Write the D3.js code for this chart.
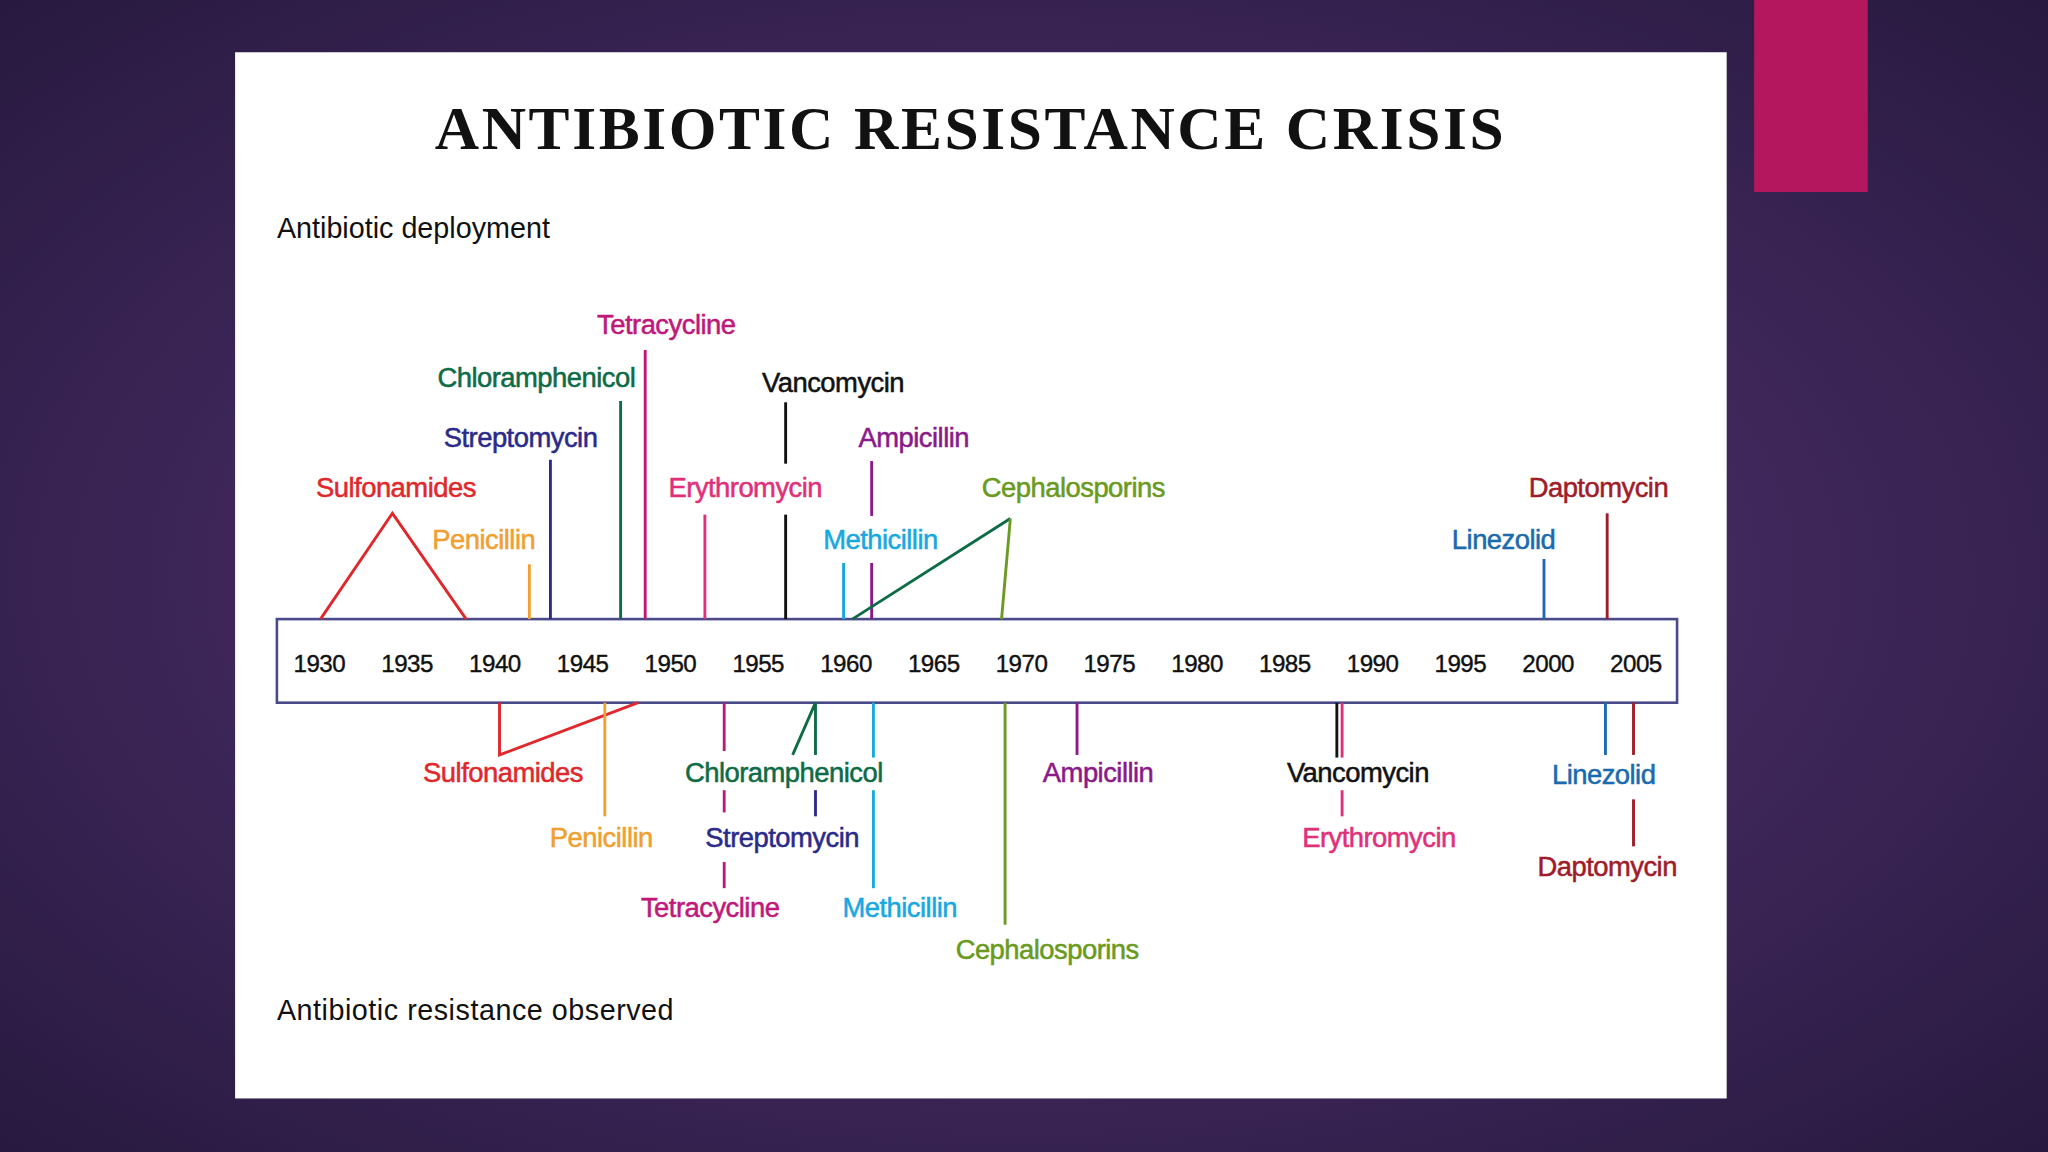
<!DOCTYPE html>
<html><head><meta charset="utf-8">
<script src="https://cdn.jsdelivr.net/npm/d3@7"></script>
<style>
html,body{margin:0;padding:0;overflow:hidden;background:#2a1840}
svg{display:block}
</style></head>
<body><svg id="c" width="2048" height="1152"></svg>
<script>
// years on the axis
const tickYears = d3.range(1930, 2006, 5);

// drug colours
const colors = {
  Sulfonamides:'#e0282c', Penicillin:'#f0a030', Streptomycin:'#2a2a8a', Chloramphenicol:'#0d6b45',
  Tetracycline:'#c0187a', Erythromycin:'#e0307a', Vancomycin:'#111111', Ampicillin:'#8a1a8a',
  Methicillin:'#18a8e0', Cephalosporins:'#6a9a20', Linezolid:'#1a6ab0', Daptomycin:'#a01c2a'
};

// deployment (above axis): label, year of label centre, label row
const deployLabels = [
  ['Sulfonamides',1934.4,373],['Penicillin',1939.4,413],['Streptomycin',1941.5,335],
  ['Chloramphenicol',1942.4,289],['Tetracycline',1949.8,248],['Erythromycin',1954.3,373],
  ['Vancomycin',1959.3,293],['Ampicillin',1963.9,335],['Methicillin',1962.0,413],
  ['Cephalosporins',1972.99,373],['Linezolid',1997.5,413],['Daptomycin',2002.9,373]
];
// deployment marks: [drug, [[year, row], ...]]
const deployMarks = [
  ['Sulfonamides',[[1930.1,474],[1934.2,393],[1938.4,474]]],
  ['Penicillin',[[1942.0,432],[1942.0,474]]],
  ['Streptomycin',[[1943.2,352],[1943.2,474]]],
  ['Chloramphenicol',[[1947.2,307],[1947.2,474]]],
  ['Tetracycline',[[1948.6,268],[1948.6,474]]],
  ['Erythromycin',[[1952.0,394],[1952.0,474]]],
  ['Vancomycin',[[1956.6,308],[1956.6,355]]],
  ['Vancomycin',[[1956.6,394],[1956.6,474]]],
  ['Methicillin',[[1959.9,431],[1959.9,474]]],
  ['Ampicillin',[[1961.5,353],[1961.5,395]]],
  ['Ampicillin',[[1961.5,431],[1961.5,474]]],
  ['Chloramphenicol',[[1960.4,474],[1969.4,397]]],
  ['Cephalosporins',[[1969.4,397],[1968.9,474]]],
  ['Linezolid',[[1999.8,428],[1999.8,474]]],
  ['Daptomycin',[[2003.4,393],[2003.4,474]]]
];

// resistance observed (below axis)
const resistLabels = [
  ['Sulfonamides',1940.5,591],['Penicillin',1946.1,641],['Tetracycline',1952.3,695],
  ['Chloramphenicol',1956.5,591],['Streptomycin',1956.4,641],['Methicillin',1963.1,695],
  ['Cephalosporins',1971.5,727],['Ampicillin',1974.4,591],['Vancomycin',1989.2,591],
  ['Erythromycin',1990.4,641],['Linezolid',2003.2,593],['Daptomycin',2003.4,663]
];
const resistMarks = [
  ['Sulfonamides',[[1940.3,538],[1940.3,578],[1948.2,538]]],
  ['Penicillin',[[1946.3,538],[1946.3,625]]],
  ['Tetracycline',[[1953.1,538],[1953.1,575]]],
  ['Tetracycline',[[1953.1,605],[1953.1,622]]],
  ['Tetracycline',[[1953.1,660],[1953.1,680]]],
  ['Chloramphenicol',[[1958.3,538],[1958.3,578]]],
  ['Chloramphenicol',[[1958.3,538],[1957.0,578]]],
  ['Streptomycin',[[1958.3,605],[1958.3,625]]],
  ['Methicillin',[[1961.6,538],[1961.6,580]]],
  ['Methicillin',[[1961.6,605],[1961.6,680]]],
  ['Cephalosporins',[[1969.1,538],[1969.1,708]]],
  ['Ampicillin',[[1973.2,538],[1973.2,578]]],
  ['Vancomycin',[[1988.0,538],[1988.0,580]]],
  ['Erythromycin',[[1988.3,538],[1988.3,580]]],
  ['Erythromycin',[[1988.3,605],[1988.3,625]]],
  ['Linezolid',[[2003.3,538],[2003.3,578]]],
  ['Daptomycin',[[2004.9,538],[2004.9,578]]],
  ['Daptomycin',[[2004.9,612],[2004.9,648]]]
];

const svg = d3.select('#c').attr('viewBox','0 0 1568 882');

// background
const defs = svg.append('defs');
const rg = defs.append('radialGradient').attr('id','bg').attr('cx','50%').attr('cy','50%').attr('r','75%');
rg.append('stop').attr('offset','0%').attr('stop-color','#5a3578');
rg.append('stop').attr('offset','100%').attr('stop-color','#24183c');
svg.append('rect').attr('width',1568).attr('height',882).attr('fill','url(#bg)');
svg.append('rect').attr('x',1343).attr('y',0).attr('width',87).attr('height',147).attr('fill','#b5175e');
svg.append('rect').attr('x',180).attr('y',40).attr('width',1142).attr('height',801).attr('fill','#fff');

svg.append('text').attr('x',743).attr('y',114).attr('text-anchor','middle')
  .attr('font-family','Liberation Serif, serif').attr('font-weight','bold').attr('font-size',47)
  .attr('letter-spacing',2).attr('fill','#111').text('ANTIBIOTIC RESISTANCE CRISIS');

const sans = 'Liberation Sans, Arial, sans-serif';
svg.append('text').attr('x',212).attr('y',182).attr('font-family',sans).attr('font-size',22)
  .attr('fill','#111').attr('letter-spacing',0).text('Antibiotic deployment');
svg.append('text').attr('x',212).attr('y',781).attr('font-family',sans).attr('font-size',22)
  .attr('fill','#111').attr('letter-spacing',0.4).text('Antibiotic resistance observed');

const x = d3.scaleLinear().domain([1930,2005]).range([244,1252]);

// timeline box
svg.append('rect').attr('x',212).attr('y',474).attr('width',1072).attr('height',64)
  .attr('fill','#fff').attr('stroke','#4a4a8a').attr('stroke-width',2);
const axis = d3.axisBottom(x).tickValues(tickYears).tickFormat(d3.format('d')).tickSize(0);
const ag = svg.append('g').attr('transform','translate(0,502)').call(axis);
ag.select('.domain').remove();
ag.selectAll('text').attr('font-family',sans).attr('font-size',18.5).attr('fill','#111')
  .attr('stroke','#111').attr('stroke-width',0.3)
  .attr('letter-spacing',-0.4).attr('dy','0.5em');

const line = d3.line().x(d=>x(d[0])).y(d=>d[1]);
function drawMarks(marks){
  svg.append('g').selectAll('path').data(marks).join('path')
    .attr('d',d=>line(d[1])).attr('fill','none')
    .attr('stroke',d=>colors[d[0]]).attr('stroke-width',2.2);
}
function drawLabels(labels){
  svg.append('g').selectAll('text').data(labels).join('text')
    .attr('x',d=>x(d[1])).attr('y',d=>d[2]).attr('dy','0.35em')
    .attr('text-anchor','middle').attr('font-family',sans).attr('font-size',21)
    .attr('stroke',d=>colors[d[0]]).attr('stroke-width',0.4)
    .attr('letter-spacing',-0.4).attr('fill',d=>colors[d[0]]).text(d=>d[0]);
}
drawMarks(deployMarks); drawMarks(resistMarks);
drawLabels(deployLabels); drawLabels(resistLabels);
</script></body></html>
